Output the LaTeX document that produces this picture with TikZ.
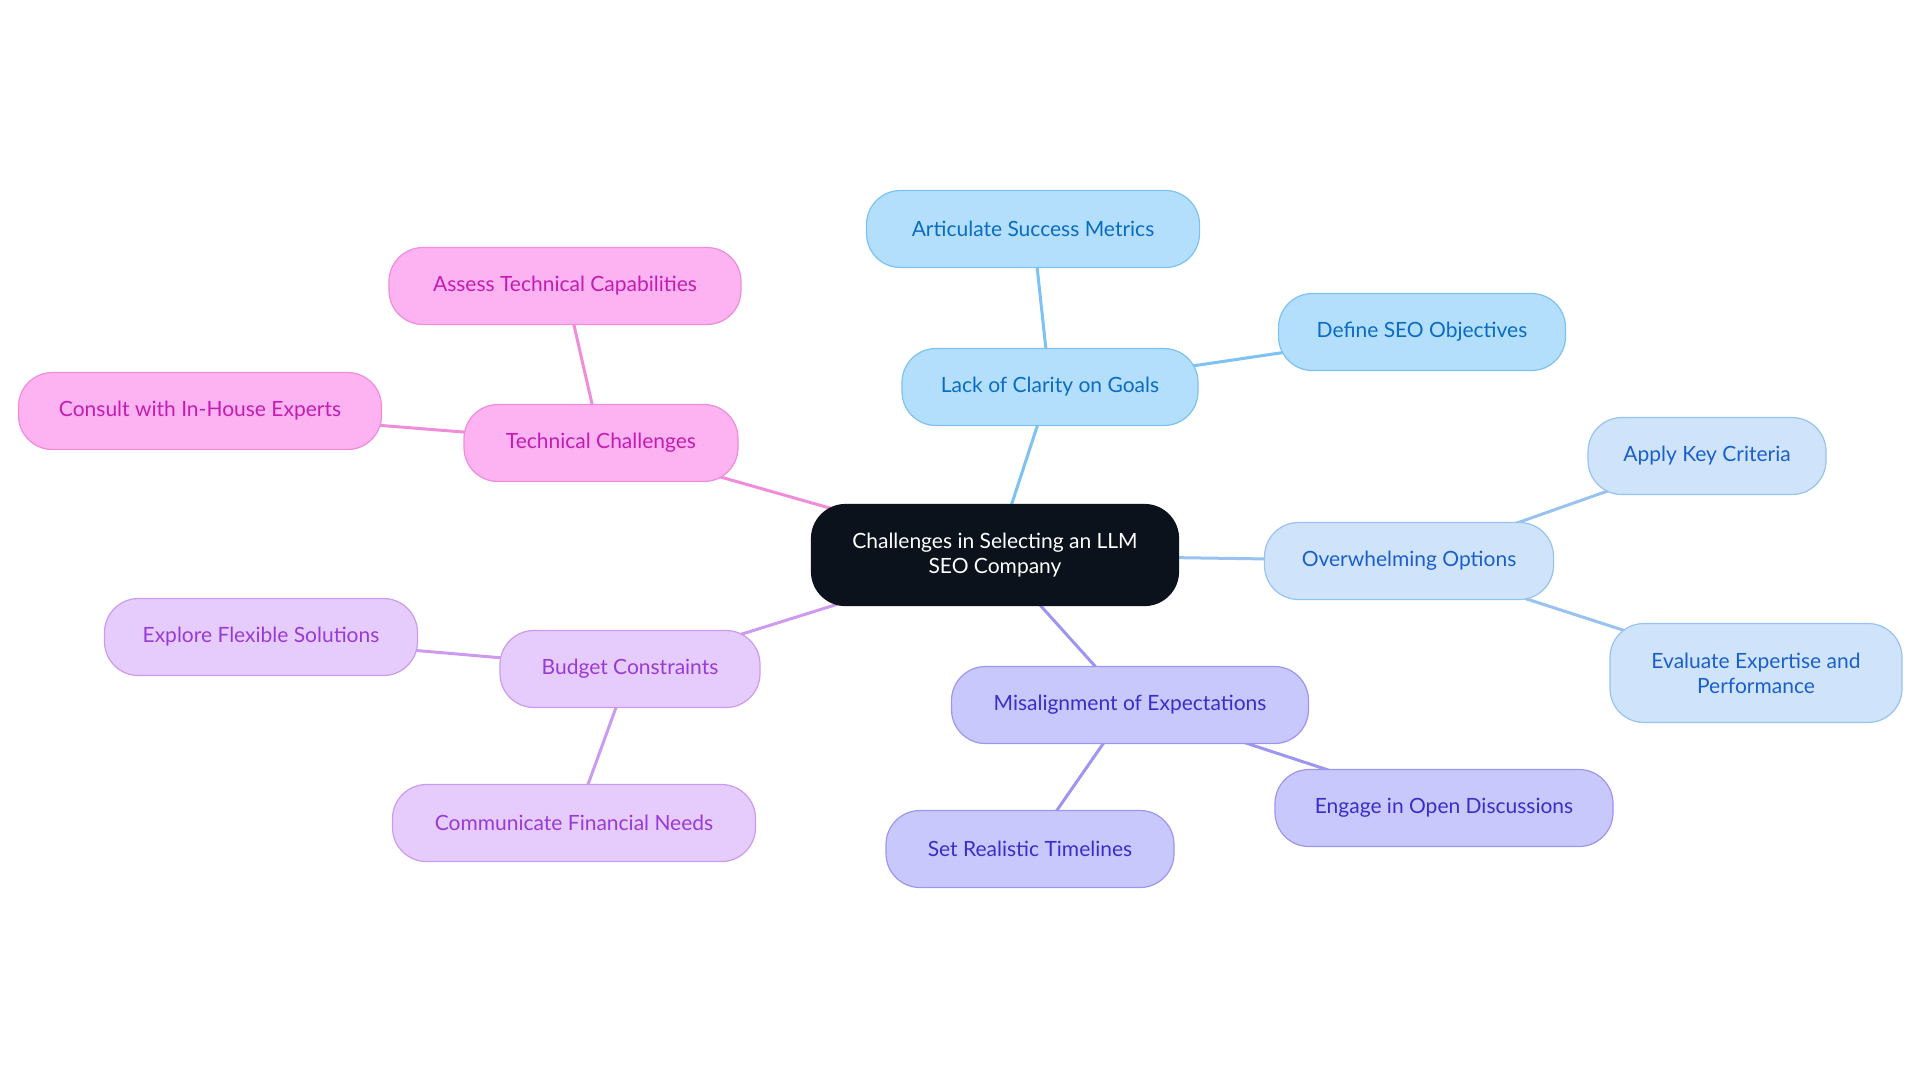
\documentclass[tikz,border=0pt]{standalone}
\usepackage{fontspec}
\setmainfont{Lato}
\usepackage{tikz}
\usetikzlibrary{positioning,backgrounds}

\definecolor{rootfill}{HTML}{0C121B}
\definecolor{goalfill}{HTML}{B3DFFD}\definecolor{goaltext}{HTML}{0A6CC2}\definecolor{goalline}{HTML}{7CC2F2}
\definecolor{optfill}{HTML}{CFE4FB}\definecolor{opttext}{HTML}{1B5FCB}\definecolor{optline}{HTML}{98C2F0}
\definecolor{misfill}{HTML}{C8C8FC}\definecolor{mistext}{HTML}{3A2ECB}\definecolor{misline}{HTML}{9D96F1}
\definecolor{budfill}{HTML}{E6CCFC}\definecolor{budtext}{HTML}{9A3AD6}\definecolor{budline}{HTML}{CC9BF1}
\definecolor{tecfill}{HTML}{FDB3F1}\definecolor{tectext}{HTML}{C41CB0}\definecolor{tecline}{HTML}{F08CD9}

\tikzset{
  topic/.style={rounded corners=17pt, minimum height=38.5pt, inner xsep=16pt, align=center, font=\fontsize{10.5}{12.5}\selectfont, line width=0.6pt},
  goal/.style={topic, fill=goalfill, draw=goalline, text=goaltext},
  opt/.style={topic, fill=optfill, draw=optline, text=opttext},
  mis/.style={topic, fill=misfill, draw=misline, text=mistext},
  bud/.style={topic, fill=budfill, draw=budline, text=budtext},
  tec/.style={topic, fill=tecfill, draw=tecline, text=tectext},
  link/.style={line width=1.5pt}
}

\begin{document}
\begin{tikzpicture}[x=0.5pt,y=-0.5pt]
\useasboundingbox (0,0) rectangle (1920,1083);
% centre
\node[topic, fill=rootfill, draw=rootfill, text=white, minimum height=50.5pt, minimum width=183.5pt] (root) at (995,555) {Challenges in Selecting an LLM\\SEO Company};
% goals
\node[goal, minimum width=148pt] (clarity) at (1050,387) {Lack of Clarity on Goals};
\node[goal, minimum width=166.5pt] (metrics) at (1033,229) {Articulate Success Metrics};
\node[goal, minimum width=143.5pt] (objectives) at (1422,332) {Define SEO Objectives};
% options
\node[opt, minimum width=144.5pt] (options) at (1409,561) {Overwhelming Options};
\node[opt, minimum width=119pt] (criteria) at (1707,456) {Apply Key Criteria};
\node[opt, minimum width=146pt, minimum height=49.5pt] (expertise) at (1756,673) {Evaluate Expertise and\\Performance};
% expectations
\node[mis, minimum width=178.5pt] (expect) at (1130,705) {Misalignment of Expectations};
\node[mis, minimum width=169pt] (discuss) at (1444,808) {Engage in Open Discussions};
\node[mis, minimum width=144pt] (timelines) at (1030,849) {Set Realistic Timelines};
% budget
\node[bud, minimum width=130pt] (budget) at (630,669) {Budget Constraints};
\node[bud, minimum width=156.5pt] (flexible) at (261,637) {Explore Flexible Solutions};
\node[bud, minimum width=181.5pt] (financial) at (574,823) {Communicate Financial Needs};
% technical
\node[tec, minimum width=137pt] (technical) at (601,443) {Technical Challenges};
\node[tec, minimum width=176pt] (capab) at (565,286) {Assess Technical Capabilities};
\node[tec, minimum width=181.5pt] (consult) at (200,411) {Consult with In-House Experts};

% links
\begin{scope}[on background layer]
\draw[link, goalline] (root.center) -- (clarity.center) (clarity.center) -- (metrics.center) (clarity.center) -- (objectives.center);
\draw[link, optline] (root.center) -- (options.center) (options.center) -- (criteria.center) (options.center) -- (expertise.center);
\draw[link, misline] (root.center) -- (expect.center) (expect.center) -- (discuss.center) (expect.center) -- (timelines.center);
\draw[link, budline] (root.center) -- (budget.center) (budget.center) -- (flexible.center) (budget.center) -- (financial.center);
\draw[link, tecline] (root.center) -- (technical.center) (technical.center) -- (capab.center) (technical.center) -- (consult.center);
\end{scope}
\end{tikzpicture}
\end{document}
